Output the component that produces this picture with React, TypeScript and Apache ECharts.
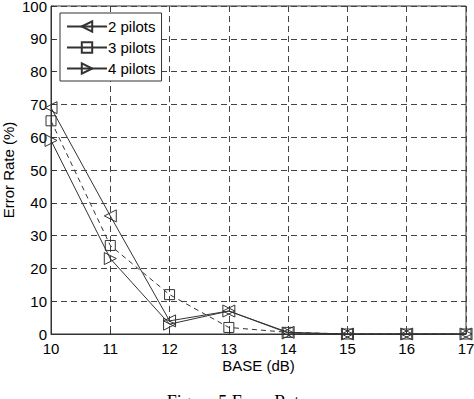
import React, { useEffect, useRef } from "react";
import * as echarts from "echarts";

const xValues = [10, 11, 12, 13, 14, 15, 16, 17];
const pilots2 = [69, 36, 4, 7, 0.5, 0, 0, 0];
const pilots3 = [65, 27, 12, 2, 0.5, 0, 0, 0];
const pilots4 = [59, 23, 3, 7, 0.3, 0, 0, 0];
const seriesNames = ["2 pilots", "3 pilots", "4 pilots"];

const FONT = "Liberation Sans, Arial, Helvetica, sans-serif";
const LINE = "#333";

export default function App() {
  const ref = useRef<HTMLDivElement>(null);
  useEffect(() => {
    if (!ref.current) return;
    const chart = echarts.init(ref.current, undefined, { renderer: "svg" });
    const mk = (name: string, data: number[], symbol: string, rot: number, dashed: boolean, size: number) => ({
      name,
      type: "line",
      data: xValues.map((x, i) => [x, data[i]]),
      symbol,
      symbolSize: size,
      symbolRotate: rot,
      showSymbol: true,
      lineStyle: { color: LINE, width: 1, type: dashed ? [5, 4] : "solid" },
      itemStyle: { color: "rgba(255,255,255,0)", borderColor: LINE, borderWidth: 1 },
      emphasis: { disabled: true },
    });
    chart.setOption({
      animation: false,
      backgroundColor: "#fff",
      textStyle: { fontFamily: FONT, color: "#000" },
      grid: {
        left: 51,
        right: 8,
        top: 6,
        bottom: 65,
        show: true,
        borderColor: LINE,
        borderWidth: 1,
        containLabel: false,
        outerBoundsMode: "none",
      },
      legend: {
        orient: "vertical",
        left: 60,
        top: 13,
        padding: [6, 6, 5, 6],
        itemGap: 6,
        itemWidth: 40,
        itemHeight: 13,
        backgroundColor: "#fff",
        borderColor: LINE,
        borderWidth: 1,
        borderRadius: 0,
        textStyle: { fontFamily: FONT, fontSize: 15, color: "#000", padding: [0, 0, 0, -4] },
        data: seriesNames.map((n) => ({ name: n, itemStyle: { color: "rgba(255,255,255,0)", borderColor: LINE }, lineStyle: { type: "solid", color: LINE } })),
      },
      xAxis: {
        type: "value",
        min: 10,
        max: 17,
        interval: 1,
        name: "BASE (dB)",
        nameLocation: "middle",
        nameGap: 24,
        nameMoveOverlap: false,
        nameTextStyle: { fontFamily: FONT, fontSize: 15, color: "#000" },
        axisLine: { lineStyle: { color: LINE } },
        axisTick: { inside: true, length: 4, lineStyle: { color: LINE } },
        axisLabel: { fontFamily: FONT, fontSize: 15, color: "#000", margin: 7 },
        splitLine: { show: true, lineStyle: { color: "#444", type: [6, 4], width: 1 } },
      },
      yAxis: {
        type: "value",
        min: 0,
        max: 100,
        interval: 10,
        name: "Error Rate (%)",
        nameLocation: "middle",
        nameGap: 36,
        nameMoveOverlap: false,
        nameTextStyle: { fontFamily: FONT, fontSize: 15, color: "#000", lineHeight: 14 },
        axisLine: { show: true, lineStyle: { color: LINE } },
        axisTick: { show: true, inside: true, length: 4, lineStyle: { color: LINE } },
        axisLabel: { fontFamily: FONT, fontSize: 15, color: "#000", margin: 4, lineHeight: 11 },
        splitLine: { show: true, lineStyle: { color: "#444", type: [6, 4], width: 1 } },
      },
      graphic: [
        {
          type: "text",
          left: "center",
          top: 393,
          style: { text: "Figure 5 Error Rate", font: "18px 'Liberation Serif', serif", fill: "#000" },
        },
      ],
      series: [
        mk(seriesNames[0], pilots2, "triangle", 90, false, 12),
        mk(seriesNames[1], pilots3, "rect", 0, true, 10),
        mk(seriesNames[2], pilots4, "triangle", -90, false, 12),
      ],
    });
    return () => chart.dispose();
  }, []);
  return <div ref={ref} style={{ position: "fixed", left: 0, top: 0, width: 474, height: 399 }} />;
}
